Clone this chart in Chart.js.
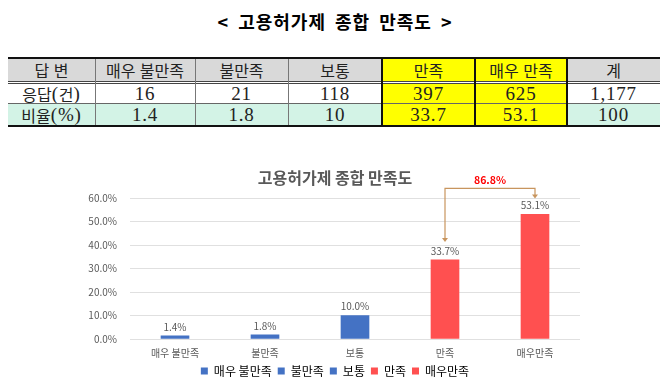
<!DOCTYPE html>
<html lang="ko">
<head>
<meta charset="utf-8">
<script src="https://cdn.jsdelivr.net/npm/chart.js@4.4.1/dist/chart.umd.min.js"></script>
<style>
  html, body { margin:0; padding:0; background:#fff; }
  #page { position:relative; width:670px; height:385px; overflow:hidden; background:#fff; }
  #mainTitle { position:absolute; left:0; top:9px; width:670px; text-align:center;
    font-family:"Noto Sans CJK KR","Noto Sans",sans-serif; font-weight:bold; font-size:18px; color:#000; line-height:24px;
    letter-spacing:1px; word-spacing:3px; }
  #tbl { position:absolute; left:0; top:0; width:670px; height:140px; }
  .cell { position:absolute; display:flex; align-items:center; justify-content:center; box-sizing:border-box;
    font-family:"Liberation Serif","Noto Sans CJK KR",serif; color:#222; white-space:nowrap; }
  .ko { font-family:"Noto Sans CJK KR",sans-serif; font-size:16px; }
  .num { font-size:19px; letter-spacing:0.8px; }
  .hl { position:absolute; }
  #chartBox { position:absolute; left:0; top:160px; width:670px; height:235px; }
</style>
</head>
<body>
<div id="page">
  <div id="mainTitle">&lt; 고용허가제 종합 만족도 &gt;</div>
  <div id="tbl"></div>
  <div id="chartBox"><canvas id="c"></canvas></div>
</div>
<script>
// ---------- data ----------
const tableHeaders   = ['답 변', '매우 불만족', '불만족', '보통', '만족', '매우 만족', '계'];
const responseCounts = ['응답(건)', '16', '21', '118', '397', '625', '1,177'];
const responseRatios = ['비율(%)', '1.4', '1.8', '10', '33.7', '53.1', '100'];

const categories     = ['매우 불만족', '불만족', '보통', '만족', '매우만족'];
const satisfactionPct = [1.4, 1.8, 10.0, 33.7, 53.1];
const yTicksMax = 60;
const yTickStep = 10;
const highlightPair = [3, 4]; // 만족 + 매우만족

// ---------- table ----------
const colEdges = [8, 95, 195, 288, 382, 475, 567, 660];
const rows = [
  { top: 59, h: 22, data: tableHeaders, bg: '#d9d9d9', header: true },
  { top: 84, h: 19, data: responseCounts, bg: '#ffffff' },
  { top: 104, h: 21, data: responseRatios, bg: '#d3f3e6' }
];
const tbl = document.getElementById('tbl');
function addRect(x, y, w, h, color) {
  const d = document.createElement('div');
  d.className = 'hl';
  d.style.left = x + 'px'; d.style.top = y + 'px';
  d.style.width = w + 'px'; d.style.height = h + 'px';
  d.style.background = color;
  tbl.appendChild(d);
}
rows.forEach(r => {
  r.data.forEach((txt, i) => {
    const x0 = colEdges[i], x1 = colEdges[i + 1];
    const c = document.createElement('div');
    c.className = 'cell';
    c.style.left = x0 + 'px'; c.style.top = r.top + 'px';
    c.style.width = (x1 - x0) + 'px'; c.style.height = r.h + 'px';
    c.style.background = (i === 4 || i === 5) ? '#ffff00' : r.bg;
    const parts = txt.split(/([가-힣\s]+)/).filter(s => s.length);
    parts.forEach(p => {
      const s = document.createElement('span');
      if (/[가-힣]/.test(p)) { s.className = 'ko'; s.textContent = p; s.style.whiteSpace = 'pre'; }
      else { s.className = 'num'; s.textContent = p; }
      c.appendChild(s);
    });
    tbl.appendChild(c);
  });
});
addRect(8, 57, 652, 2, '#111');
addRect(8, 81, 652, 1, '#444');
addRect(8, 83, 652, 1, '#444');
addRect(8, 103, 652, 1, '#666');
addRect(8, 125, 652, 2, '#111');
for (let i = 1; i < colEdges.length - 1; i++) {
  const strong = (i === 4 || i === 5 || i === 6);
  addRect(colEdges[i] - (strong ? 1 : 0), 59, strong ? 2 : 1, 66, strong ? '#111' : '#777');
}

// ---------- chart ----------
const BLUE = '#4472C4', RED = '#FF5050';
const barColors = satisfactionPct.map((v, i) => i >= 3 ? RED : BLUE);
const labelColor = '#595959';
const FONT = '"Noto Sans CJK KR","Noto Sans",sans-serif';

const valueLabels = {
  id: 'valueLabels',
  afterDatasetsDraw(chart) {
    const ctx = chart.ctx;
    const meta = chart.getDatasetMeta(0);
    ctx.save();
    ctx.font = '10px ' + FONT;
    ctx.fillStyle = labelColor;
    ctx.textAlign = 'center';
    ctx.textBaseline = 'middle';
    meta.data.forEach((el, i) => {
      ctx.fillText(satisfactionPct[i].toFixed(1) + '%', el.x, el.y - 9);
    });
    ctx.restore();
  }
};

const bracket = {
  id: 'bracket',
  afterDatasetsDraw(chart) {
    const ctx = chart.ctx;
    const meta = chart.getDatasetMeta(0);
    const a = meta.data[highlightPair[0]], b = meta.data[highlightPair[1]];
    const topY = Math.min(a.y, b.y) - 26;
    const tipA = a.y - 18, tipB = b.y - 16;
    const col = '#C8955E';
    ctx.save();
    ctx.strokeStyle = col; ctx.lineWidth = 1.2;
    ctx.beginPath();
    ctx.moveTo(a.x, tipA - 3); ctx.lineTo(a.x, topY); ctx.lineTo(b.x, topY); ctx.lineTo(b.x, tipB - 3);
    ctx.stroke();
    ctx.fillStyle = col;
    [[a.x, tipA], [b.x, tipB]].forEach(([x, y]) => {
      ctx.beginPath();
      ctx.moveTo(x - 3, y - 4); ctx.lineTo(x + 3, y - 4); ctx.lineTo(x, y);
      ctx.closePath(); ctx.fill();
    });
    const total = satisfactionPct[highlightPair[0]] + satisfactionPct[highlightPair[1]];
    ctx.font = 'bold 10.5px ' + FONT;
    ctx.fillStyle = '#FF0000';
    ctx.textAlign = 'center'; ctx.textBaseline = 'middle';
    ctx.fillText(total.toFixed(1) + '%', (a.x + b.x) / 2, topY - 8);
    ctx.restore();
  }
};

new Chart(document.getElementById('c'), {
  type: 'bar',
  data: {
    labels: categories,
    datasets: [{
      data: satisfactionPct,
      backgroundColor: barColors,
      borderWidth: 0,
      barThickness: 28
    }]
  },
  options: {
    responsive: true,
    maintainAspectRatio: false,
    animation: false,
    layout: { padding: { left: 0, right: 0, top: 0, bottom: 8 } },
    plugins: {
      title: {
        display: true,
        text: '고용허가제 종합 만족도',
        color: labelColor,
        font: { family: FONT, size: 16, weight: 'bold' },
        padding: { top: 8, bottom: 11 }
      },
      legend: {
        display: true,
        position: 'bottom',
        labels: {
          boxWidth: 7, boxHeight: 7, padding: 6,
          color: labelColor,
          font: { family: FONT, size: 12 },
          generateLabels() {
            return categories.map((c, i) => ({
              text: c, fillStyle: barColors[i], strokeStyle: barColors[i], lineWidth: 0, hidden: false, index: i
            }));
          }
        },
        onClick() {}
      },
      tooltip: { enabled: false }
    },
    scales: {
      x: {
        grid: { display: false, drawTicks: false },
        border: { display: false },
        ticks: { color: labelColor, font: { family: FONT, size: 10 }, padding: 8 },
        afterFit(s) { s.height = 20; }
      },
      y: {
        min: 0, max: yTicksMax,
        ticks: {
          stepSize: yTickStep, color: labelColor, padding: 13,
          font: { family: FONT, size: 10 },
          callback: v => Number(v).toFixed(1) + '%'
        },
        grid: { color: '#e0e0e0', drawTicks: false },
        border: { display: false },
        afterFit(s) { s.width = 130; }
      },
      yR: {
        position: 'right',
        display: true,
        grid: { display: false, drawTicks: false },
        border: { display: false },
        ticks: { display: false },
        afterFit(s) { s.width = 90; }
      }
    }
  },
  plugins: [valueLabels, bracket]
});
</script>
</body>
</html>
